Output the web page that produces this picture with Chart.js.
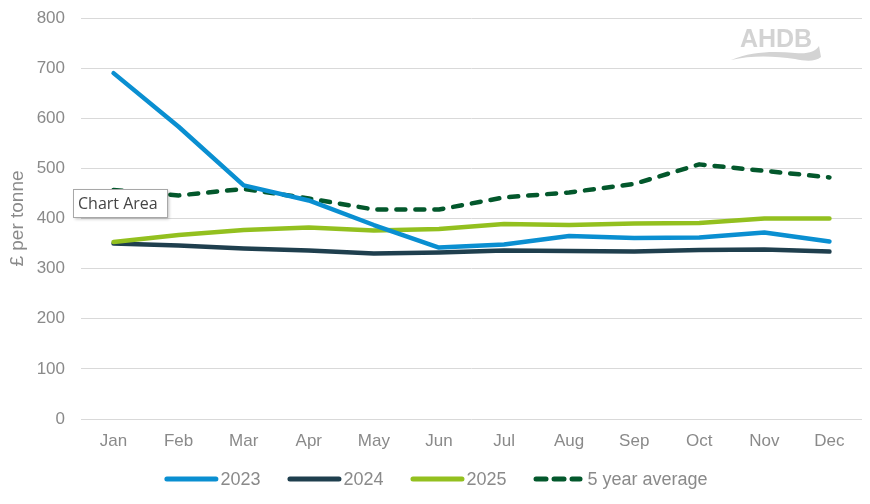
<!DOCTYPE html>
<html>
<head>
<meta charset="utf-8">
<script src="https://cdn.jsdelivr.net/npm/chart.js@4"></script>
<style>
html,body{margin:0;padding:0;background:#fff;}
#wrap{width:870px;height:504px;position:relative;}
</style>
</head>
<body>
<div id="wrap"><canvas id="c" width="870" height="504"></canvas></div>
<script>
const months = ['Jan','Feb','Mar','Apr','May','Jun','Jul','Aug','Sep','Oct','Nov','Dec'];
const yTicks = [0,100,200,300,400,500,600,700,800];
const s2023 = [690,583,466,436,387,342,348,365,361,362,372,354];
const s2024 = [350,346,340,336,330,332,336,335,334,337,338,334];
const s2025 = [353,367,377,382,376,379,389,387,390,391,400,400];
const avg5  = [457,446,459,440,418,418,442,452,469,508,495,482];

const seriesNames = ['2023','2024','2025','5 year average'];
const seriesColors = ['#0a8fd1','#1f3f4e','#93c01f','#03582c'];

const FONT = '"Liberation Sans", Arial, sans-serif';
const GREY = '#8a8a8a';

const extras = {
  id:'extras',
  afterDraw(chart){
    const ctx = chart.ctx;
    // AHDB logo
    ctx.save();
    ctx.fillStyle = '#d3d3d3';
    ctx.font = 'bold 25px ' + FONT;
    ctx.textAlign = 'center';
    ctx.textBaseline = 'alphabetic';
    ctx.fillText('AHDB', 776, 47);
    ctx.beginPath();
    ctx.moveTo(731,60);
    ctx.bezierCurveTo(752,51,775,51,795,53);
    ctx.bezierCurveTo(808,54,815,52,819,46);
    ctx.lineTo(821,57);
    ctx.bezierCurveTo(815,62,805,61,795,59);
    ctx.bezierCurveTo(775,56,752,55,731,60);
    ctx.closePath();
    ctx.fill();
    ctx.restore();

    // custom legend
    ctx.save();
    ctx.font = '18px ' + FONT;
    ctx.textBaseline = 'middle';
    const ly = 479;
    const items = seriesNames.map((n,i)=>{
      const dashed = i===3;
      const lw = dashed ? 49 : 54;
      const gap = dashed ? 5 : 2;
      return {n, i, dashed, lw, gap, tw: ctx.measureText(n).width};
    });
    const spacing = 27;
    let total = items.reduce((a,it)=>a+it.lw+it.gap+it.tw,0) + spacing*(items.length-1);
    let x = 436 - total/2;
    items.forEach(it=>{
      ctx.strokeStyle = seriesColors[it.i];
      ctx.lineWidth = 5;
      ctx.lineCap = 'round';
      if (it.dashed) ctx.setLineDash([10,8]); else ctx.setLineDash([]);
      ctx.beginPath();
      ctx.moveTo(x+2.5, ly);
      ctx.lineTo(x+it.lw-2.5, ly);
      ctx.stroke();
      ctx.setLineDash([]);
      ctx.fillStyle = GREY;
      ctx.fillText(it.n, x+it.lw+it.gap, ly+1);
      x += it.lw+it.gap+it.tw+spacing;
    });
    ctx.restore();

    // "Chart Area" hover tip
    ctx.save();
    ctx.shadowColor = 'rgba(0,0,0,0.25)';
    ctx.shadowBlur = 3;
    ctx.shadowOffsetX = 1.5;
    ctx.shadowOffsetY = 1.5;
    ctx.fillStyle = '#ffffff';
    ctx.fillRect(73.5,189.5,94,28);
    ctx.shadowColor = 'transparent';
    ctx.strokeStyle = '#a8a8a8';
    ctx.lineWidth = 1;
    ctx.strokeRect(73.5,189.5,94,28);
    ctx.fillStyle = '#454545';
    ctx.font = '16px "Open Sans", "Noto Sans", sans-serif';
    ctx.textBaseline = 'middle';
    ctx.fillText('Chart Area', 78, 204);
    ctx.restore();
  }
};

const common = {fill:false, pointRadius:0, pointHoverRadius:0, borderWidth:4.5, tension:0, borderJoinStyle:'round', borderCapStyle:'round'};

new Chart(document.getElementById('c'), {
  type:'line',
  data:{
    labels: months,
    datasets:[
      Object.assign({label:seriesNames[3], data:avg5, borderColor:seriesColors[3], borderDash:[9,10], order:4}, common),
      Object.assign({label:seriesNames[1], data:s2024, borderColor:seriesColors[1], order:3}, common),
      Object.assign({label:seriesNames[2], data:s2025, borderColor:seriesColors[2], order:2}, common),
      Object.assign({label:seriesNames[0], data:s2023, borderColor:seriesColors[0], order:1}, common)
    ]
  },
  options:{
    responsive:false,
    animation:false,
    events:[],
    layout:{padding:{left:0,right:8,top:18,bottom:47}},
    plugins:{legend:{display:false}, tooltip:{enabled:false}},
    scales:{
      x:{
        offset:true,
        grid:{display:false, drawTicks:false},
        border:{display:false},
        ticks:{color:GREY, font:{family:FONT,size:17}, padding:12, maxRotation:0},
        afterFit(s){ s.height = 38; s.paddingLeft = 0; s.paddingRight = 0; }
      },
      y:{
        min:0, max:800,
        afterBuildTicks(s){ s.ticks = yTicks.map(v=>({value:v})); },
        grid:{color:'#d9d9d9', lineWidth:1, drawTicks:false},
        border:{display:false},
        ticks:{color:GREY, font:{family:FONT,size:17}, padding:16},
        title:{display:true, text:'£ per tonne', color:GREY, font:{family:FONT,size:19}, padding:{top:6,bottom:0}},
        afterFit(s){ s.width = 81; s.paddingTop = 0; s.paddingBottom = 0; }
      }
    }
  },
  plugins:[extras]
});
</script>
</body>
</html>
